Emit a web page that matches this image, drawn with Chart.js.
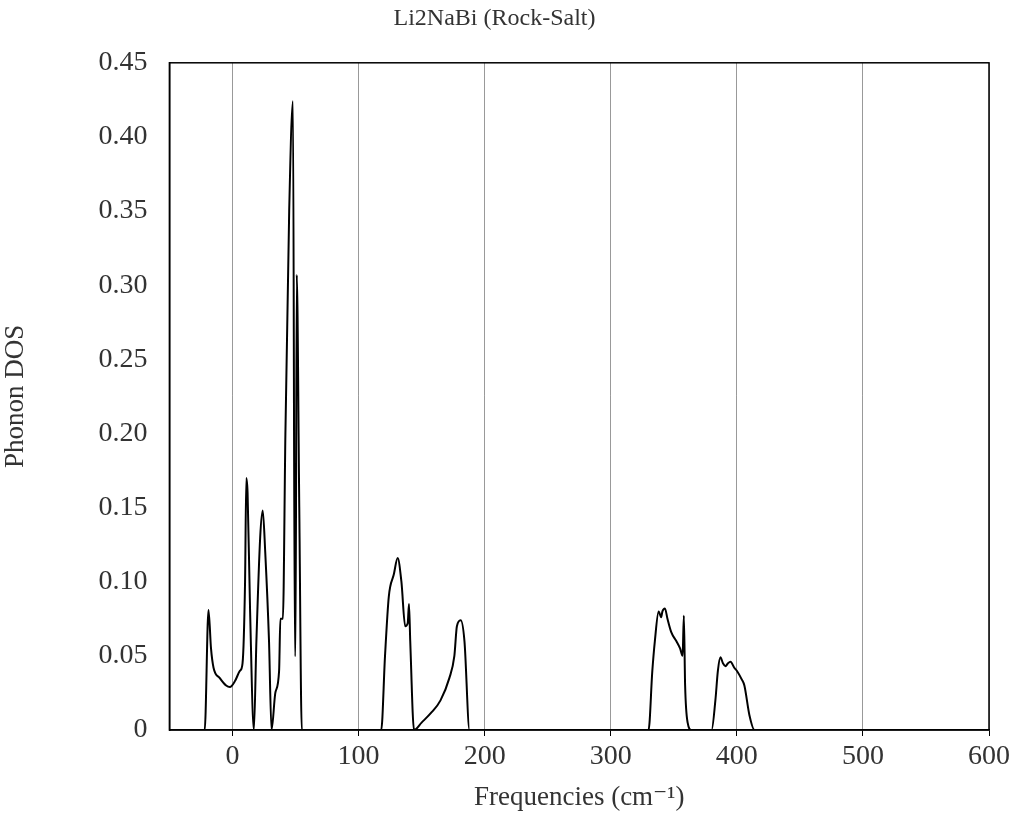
<!DOCTYPE html><html><head><meta charset="utf-8">
<script src="https://cdn.jsdelivr.net/npm/chart.js@4"></script>
<style>html,body{margin:0;background:#fff}#w{width:1019px;height:826px}</style></head><body>
<div id="w"><canvas id="c"></canvas></div>
<script>
const freq=[-26,-22,-19,-17,-15,-10,-5,-2,2,6,8,10,11,12,14,17,19,22,24,26,29,31,34,37,38,40,42,45,48,49.5,50,51,53,55,60,110,118,121,124,128,131,134,137,139,140,141,144,150,158,165,172,176,178,181,184,188,200,320,330,333,335,338,340,341,343,345,348,352,355,357,358,359,361,364,375,380,383,385,387,389,391,393,395,398,400,404,406,410,414,420];
const dos=[0,0,0.081,0.055,0.042,0.035,0.03,0.029,0.033,0.04,0.045,0.1,0.17,0.16,0.08,0,0.06,0.13,0.148,0.12,0.06,0,0.025,0.04,0.075,0.075,0.2,0.35,0.424,0.05,0.05,0.307,0.15,0,0,0,0,0.05,0.09,0.105,0.116,0.1,0.07,0.072,0.085,0.06,0,0.005,0.012,0.02,0.035,0.05,0.07,0.074,0.06,0,0,0,0,0.04,0.06,0.08,0.076,0.08,0.082,0.075,0.066,0.06,0.055,0.05,0.077,0.03,0.005,0,0,0,0.02,0.04,0.049,0.045,0.043,0.045,0.046,0.042,0.04,0.034,0.03,0.01,0,0];
const xTicks=[0,100,200,300,400,500,600];
const pts=freq.map((x,i)=>({x,y:dos[i]}));
const F='"Liberation Serif", "DejaVu Serif", serif';
new Chart(document.getElementById('c'),{type:'scatter',
data:{datasets:[{data:pts,showLine:true,borderColor:'#000',borderWidth:2,pointRadius:0,tension:0.25,cubicInterpolationMode:'monotone'}]},
options:{responsive:true,maintainAspectRatio:false,animation:false,
layout:{padding:{left:0,right:30,top:0,bottom:8}},
plugins:{legend:{display:false},title:{display:true,text:'Li2NaBi (Rock-Salt)',color:'#333',font:{family:F,size:24,weight:'normal'},padding:{top:4,bottom:30}}},
scales:{
x:{min:-50,max:600,border:{display:true,color:'#000',width:1.5},
afterBuildTicks:a=>{a.ticks=xTicks.map(v=>({value:v}));},
ticks:{color:'#333',font:{family:F,size:28},padding:4},
grid:{color:'#999',lineWidth:1,drawTicks:true,tickColor:'#000',tickLength:6,borderDash:[1,2]},
title:{display:true,text:'Frequencies (cm⁻¹)',color:'#333',font:{family:F,size:27}}},
y:{min:0,max:0.45,border:{color:'#000',width:1.5},
ticks:{stepSize:0.05,color:'#333',font:{family:F,size:28},padding:14},
grid:{display:false},
title:{display:true,text:'Phonon DOS',color:'#333',font:{family:F,size:27},padding:{top:0,bottom:52}}}}},
plugins:[{id:'box',afterDraw(c){const a=c.chartArea,x=c.ctx;x.save();x.strokeStyle='#000';x.lineWidth=1.5;x.strokeRect(a.left,a.top,a.right-a.left,a.bottom-a.top);x.restore();}}]
});
</script></body></html>
